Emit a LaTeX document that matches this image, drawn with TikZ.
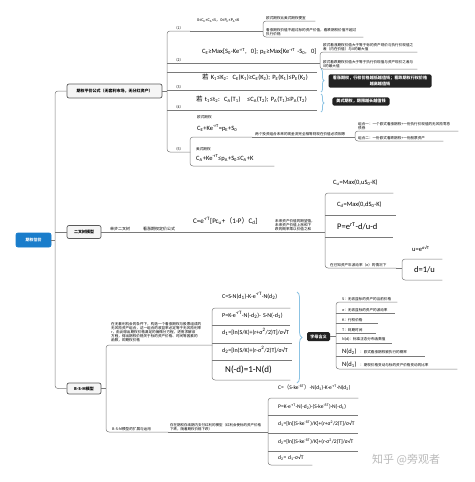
\documentclass[tikz,border=0pt]{standalone}
\usepackage{fontspec}
\setmainfont{Noto Sans CJK SC}
\newfontfamily\cjk{Noto Sans CJK SC}
\newfontfamily\fml{Carlito}
\usetikzlibrary{positioning,decorations.pathreplacing}

\definecolor{linegray}{HTML}{7A7A7A}
\definecolor{boxgray}{HTML}{5A5A5A}
\definecolor{rootblue}{HTML}{1A7DCB}
\definecolor{bracecol}{HTML}{8CC3E3}
\definecolor{darkfill}{HTML}{222222}

\newcommand\ftiny{\fontsize{3.6}{4.2}\selectfont}
\newcommand\fms[2]{\fml\fontsize{#1}{#2}\selectfont}
\newcommand\sbs[1]{\textsubscript{#1}}
\newcommand\sps[1]{\textsuperscript{#1}}

\begin{document}
\begin{tikzpicture}[x=1pt,y=-1pt,
        conn/.style={draw=linegray, line width=0.5pt},
        turn/.style={conn, rounded corners=3pt},
        mainbox/.style={draw=boxgray, fill=gray!8, rounded corners=2pt, line width=0.7pt, inner sep=0pt, font=\fontsize{4}{5}\selectfont\bfseries},
        darkbox/.style={fill=darkfill, text=white, rounded corners=1.5pt, inner xsep=4pt, inner ysep=2pt, align=center, font=\fontsize{4.1}{5.2}\selectfont\bfseries},
        tp/.style={anchor=south west, inner xsep=3pt, inner ysep=1.2pt, align=left, font=\ftiny},
        lab/.style={anchor=south west, inner xsep=0pt, inner ysep=1.2pt, align=center, text width=23pt, font=\ftiny},
        fm/.style={anchor=south west, inner xsep=8pt, inner ysep=7pt, align=left, font=\fms{6.5}{7.5}},
        summ/.style={draw=bracecol, line width=0.8pt, decorate, decoration={brace, amplitude=3pt}}
    ]
    \useasboundingbox (0,0) rectangle (474,482);

    % Nodes
    \node[mainbox, fill=rootblue, draw=rootblue, text=white, minimum width=35pt, minimum height=14pt] (root) at (33.5,240) {期权估价};
    \node[mainbox, minimum width=95pt, minimum height=14pt] (pcp) at (114.5,91) {期权平价公式（无套利市场，无分红资产）};
    \node[mainbox, minimum width=34pt, minimum height=13pt] (tree) at (84,232) {二叉树模型};
    \node[mainbox, minimum width=34pt, minimum height=11pt] (bsm) at (84,388.5) {B-S-M模型};
    \coordinate (trunk) at (55,240);

    % parity, (1)-(5)
    \node[lab] (l1) at (167,31) {（1）};
    \node[fm, font=\fms{4.2}{5}, inner ysep=8pt, inner xsep=7pt, text width=59pt] (f1) at (190,31) {\mbox{0≤C\sbs{E}≤C\sbs{A}≤S{\cjk ，}0≤P\sbs{E}≤P\sbs{A}≤K}};
    \node[tp, text width=46pt] (t1a) at (263,21) {欧式期权比美式期权便宜};
    \node[tp, text width=94pt] (t1b) at (263,37) {看涨期权价值不超过标的资产价值，看跌期权价值不超过\\执行价格};

    \node[lab] (l2) at (167,63) {（2）};
    \node[fm, inner ysep=8pt, inner xsep=12pt, text width=103pt] (f2) at (190,63) {\mbox{C\sbs{E}≥Max[S\sbs{0}-Ke\sps{-rT},~~0];~p\sbs{E}≥Max[Ke\sps{-rT}~-S\sbs{0},~~0]}};
    \node[tp, text width=91pt] (t2a) at (320,52) {欧式看涨期权价值大于等于标的资产现价与执行价现值之\\差（内在价值）与0的最大值};
    \node[tp, text width=91pt] (t2b) at (320,69) {欧式看跌期权价值大于等于执行价现值与资产现价之差与\\0的最大值};

    \coordinate (r3) at (167,72);
    \node[lab] (l3) at (167,90) {（3）};
    \node[fm, inner ysep=9pt, inner xsep=12pt, text width=103pt] (f3) at (190,90) {\mbox{{\cjk 若}~K\sbs{1}≤K\sbs{2}:~~C\sbs{E}(K\sbs{1})≥C\sbs{E}(K\sbs{2});~P\sbs{E}(K\sbs{1})≤P\sbs{E}(K\sbs{2})}};
    \node[darkbox, text width=95pt] (d3) at (380,81) {看涨期权，行权价格越低越值钱；看跌期权行权价格\\越高越值钱};

    \node[lab] (l4) at (167,110) {（4）};
    \node[fm, inner ysep=7pt, inner xsep=6pt, text width=115pt] (f4) at (190,110) {\mbox{{\cjk 若}~t\sbs{1}≤t\sbs{2}:~~C\sbs{A}(T\sbs{1})~~~≤C\sbs{A}(T\sbs{2});~P\sbs{A}(T\sbs{1})≤P\sbs{A}(T\sbs{2})}};
    \node[darkbox] (d4) at (361,101.5) {美式期权，期限越长越值钱};

    \node[fm, inner xsep=7pt, inner ysep=5.5pt, text width=48pt] (g4) at (190,137) {{\cjk\ftiny 欧式期权}\\[4pt]\mbox{C\sbs{E}+Ke\sps{-rT}=p\sbs{E}+S\sbs{0}}};
    \node[tp, text width=97pt] (t4) at (252,137) {两个投资组合未来的现金流完全相等则现在价值必须相等};
    \node[tp, text width=97pt] (t4a) at (355,131) {组合一：一个欧式看涨期权+一份执行价现值的无风险零息\\债券};
    \node[tp, text width=82pt] (t4b) at (355,141) {组合二：一份欧式看跌期权+一份股票资产};

    \node[lab] (l5) at (167,152) {（5）};
    \node[fm, inner xsep=6pt, inner ysep=4.5pt, text width=72pt] (g5) at (190,166) {{\cjk\ftiny 美式期权}\\[2pt]\mbox{C\sbs{A}+Ke\sps{-rT}≤p\sbs{A}+S\sbs{0}≤C\sbs{A}+K}};

    % binomial tree
    \node[tp, inner xsep=4pt, text width=25pt, font=\fontsize{4}{5}\selectfont] (s1) at (106,232) {单步二叉树};
    \node[tp, inner xsep=4pt, text width=38pt, font=\fontsize{4}{5}\selectfont] (s2) at (139,232) {看涨期权定价公式};
    \node[fm, font=\fms{7}{8}, inner ysep=7.5pt, text width=72pt] (f5) at (185,232) {\mbox{C=e\sps{-rT}[Pc\sbs{u}+{\cjk （}1-P{\cjk ）}C\sbs{d}]}};
    \node[tp, inner xsep=2pt, inner ysep=0.8pt, text width=48pt, font=\fontsize{3.6}{4}\selectfont] (s3) at (273,232) {未来资产价值的期望值，\\未来资产价值上涨和下\\跌的概率乘以价值之和};

    \node[fm, text width=52pt] (cu) at (325,193) {\mbox{C\sbs{u}=Max(0,uS\sbs{0}-K)}};
    \node[fm, inner xsep=12pt, text width=47pt] (cd) at (325,215) {\mbox{C\sbs{d}=Max(0,dS\sbs{0}-K)}};
    \node[fm, font=\fms{8.5}{10}, inner xsep=12pt, text width=44pt] (pu) at (325,237) {\mbox{P=e\sps{rT}-d/u-d}};
    \node[tp, inner xsep=5pt, text width=61pt] (hv) at (325,268) {在已知资产年波动率（σ）的情况下};
    \node[fm, inner xsep=10pt, text width=20pt] (uu) at (402,259) {\mbox{u=e\sps{σ√T}}};
    \node[fm, font=\fms{8.5}{10}, inner xsep=12pt, text width=16pt] (dd) at (402,280) {\mbox{d=1/u}};

    % B-S-M
    \node[tp, inner xsep=5pt, inner ysep=3pt, text width=96pt, font=\fontsize{3.6}{4.1}\selectfont] (e1) at (106,345) {在无套利机会的条件下，构造一个看涨期权与股票组成的\\无风险资产组合，这一组合的收益率必定等于无风险利率\\r，由此得出期权价格满足的偏微分方程，进而求解该\\方程，得出期权价格关于标的资产价格、时间等因素的\\函数，即期权价格};
    \node[fm, font=\fms{6}{7}, inner xsep=10pt, inner ysep=8.5pt, text width=58pt] (m1) at (212,308) {\mbox{C=S·N(d\sbs{1})-K·e\sps{-rT}·N(d\sbs{2})}};
    \node[fm, font=\fms{6}{7}, inner xsep=10pt, inner ysep=6.5pt, text width=58pt] (m2) at (212,325) {\mbox{P=K·e\sps{-rT}·N(-d\sbs{2})-~S·N(-d\sbs{1})}};
    \node[fm, font=\fms{6}{7}, inner xsep=10pt, inner ysep=7.5pt, text width=60pt] (m3) at (212,343) {\mbox{d\sbs{1}=[ln(S/K)+(r+σ\sps{2}/2)T]/σ√T}};
    \node[fm, font=\fms{6}{7}, inner xsep=10pt, inner ysep=6.5pt, text width=60pt] (m4) at (212,360) {\mbox{d\sbs{2}=[ln(S/K)+(r-σ\sps{2}/2)T]/σ√T}};
    \node[fm, font=\fms{9}{10.5}, inner xsep=13pt, inner ysep=6.5pt, text width=52pt] (m5) at (212,380) {\mbox{N(-d)=1-N(d)}};

    \node[darkbox, minimum width=23pt, minimum height=9pt, inner xsep=2pt] (k) at (318.5,336.5) {字母含义};
    \node[tp, inner xsep=6pt, text width=49pt] (p1) at (336,302) {S：无收益标的资产的当前价格};
    \node[tp, inner xsep=6pt, text width=47pt] (p2) at (336,313) {σ：无收益标的资产的波动率};
    \node[tp, inner xsep=6pt, text width=30pt] (p3) at (336,323) {K：行权价格};
    \node[tp, inner xsep=6pt, text width=28pt] (p4) at (336,333) {T：到期时间};
    \node[tp, inner xsep=6pt, text width=44pt] (p5) at (336,343) {N(d)：标准正态分布函数值};
    \node[tp, inner xsep=6pt, inner ysep=1.8pt, text width=77pt] (p6) at (336,356) {{\fms{6.5}{7.5}N(d\sbs{2})}\quad ：欧式看涨期权被执行的概率};
    \node[tp, inner xsep=6pt, inner ysep=1.8pt, text width=109pt] (p7) at (336,369) {{\fms{6.5}{7.5}N(d\sbs{1})}\quad ：期权价格变动与标的资产价格变动的比率};

    \node[tp, inner xsep=6pt, text width=50pt] (e2) at (106,432) {B-S-M模型的扩展与运用};
    \node[tp, inner xsep=2pt, text width=96pt, font=\fontsize{3.5}{4.2}\selectfont] (e3) at (168,432) {存在期权存续期内支付红利的模型（红利会使标的资产价格\\下跌，随着期权价格下跌）};
    \node[fm, font=\fms{5.5}{6.5}, inner ysep=7.5pt, inner xsep=10pt, text width=70pt] (n1) at (268,398) {\mbox{C={\cjk （}S-ke\sps{-δT}{\cjk ）}·N(d\sbs{1})-K·e\sps{-rT}·N(d\sbs{2})}};
    \node[fm, font=\fms{5.5}{6.5}, inner ysep=5.5pt, inner xsep=10pt, text width=70pt] (n2) at (268,415) {\mbox{P=K·e\sps{-rT}·N(-d\sbs{2})-(S-ke\sps{-δT})·N(-d\sbs{1})}};
    \node[fm, font=\fms{5.5}{6.5}, inner ysep=6.5pt, inner xsep=10pt, text width=70pt] (n3) at (268,433) {\mbox{d\sbs{1}=[ln[(S-ke\sps{-δT})/K]+(r+σ\sps{2}/2)T]/σ√T}};
    \node[fm, font=\fms{5.5}{6.5}, inner ysep=6.5pt, inner xsep=10pt, text width=70pt] (n4) at (268,451) {\mbox{d\sbs{2}=[ln[(S-ke\sps{-δT})/K]+(r-σ\sps{2}/2)T]/σ√T}};
    \node[fm, font=\fms{5.5}{6.5}, inner ysep=4.5pt, inner xsep=10pt, text width=24pt] (n5) at (268,465) {\mbox{d\sbs{2}=~d\sbs{1}-σ√T}};

    \node[text=gray!55, font=\fontsize{11}{13}\selectfont, anchor=west, inner sep=0pt] (mark) at (372,460) {知乎 @旁观者};

    % Edges
    \draw[conn] (root.east) -- (trunk);
    \draw[turn] (pcp.west) -| (trunk) |- (bsm.west);
    \draw[conn] (tree.west) -- (tree.west -| trunk);

    \draw[conn] (pcp.east) -- (pcp.east -| l1.south west);
    \draw[turn] (l1.south east) -- (l1.south west) -- (l5.south west) -- (l5.south east);
    \foreach \n in {l2,l3,l4,f1,f2,f3,f4,t4}
        \draw[conn] (\n.south west) -- (\n.south east);
    \draw[conn] (r3) -- (r3 -| f3.south east);
    \draw[turn] (t1a.south east) -- (t1a.south west) -- (t1b.south west) -- (t1b.south east);
    \draw[conn] (f2.south east) -- (f2.south east -| t2a.south west);
    \draw[turn] (t2a.south east) -- (t2a.south west) -- (t2b.south west) -- (t2b.south east);
    \draw[turn] (g4.south east) -- (g4.south west) -- (g5.south west) -- (g5.south east);
    \draw[turn] (t4a.south east) -- (t4a.south west) -- (t4b.south west) -- (t4b.south east);
    \draw[summ] (321,69) -- (321,92);
    \draw[summ] (321,94) -- (321,112);

    \draw[conn] (tree.east) -- (s1.south west);
    \foreach \n in {s1,s2,f5,s3,cd,pu}
        \draw[conn] (\n.south west) -- (\n.south east);
    \draw[turn] (cu.south east) -- (cu.south west) -- (hv.south west) -- (hv.south east);
    \draw[conn] (hv.south east) -- (hv.south east -| uu.south west);
    \draw[turn] (uu.south east) -- (uu.south west) -- (dd.south west) -- (dd.south east);

    \draw[conn] (bsm.east) -- (bsm.east -| e1.south west);
    \draw[turn] (e1.south east) -- (e1.south west) -- (e2.south west) -- (e2.south east);
    \draw[conn] (e3.south west) -- (e3.south east);
    \draw[turn] (m1.south east) -- (m1.south west) -- (m5.south west) -- (m5.south east);
    \foreach \n in {m2,m3,m4,p2,p3,p4,p5,p6,n2,n3,n4}
        \draw[conn] (\n.south west) -- (\n.south east);
    \draw[summ, decoration={brace, amplitude=5pt}] (297,292) -- (297,383);
    \draw[conn] (k.east) -- (k.east -| p1.south west);
    \draw[turn] (p1.south east) -- (p1.south west) -- (p7.south west) -- (p7.south east);
    \draw[turn] (n1.south east) -- (n1.south west) -- (n5.south west) -- (n5.south east);

\end{tikzpicture}
\end{document}
